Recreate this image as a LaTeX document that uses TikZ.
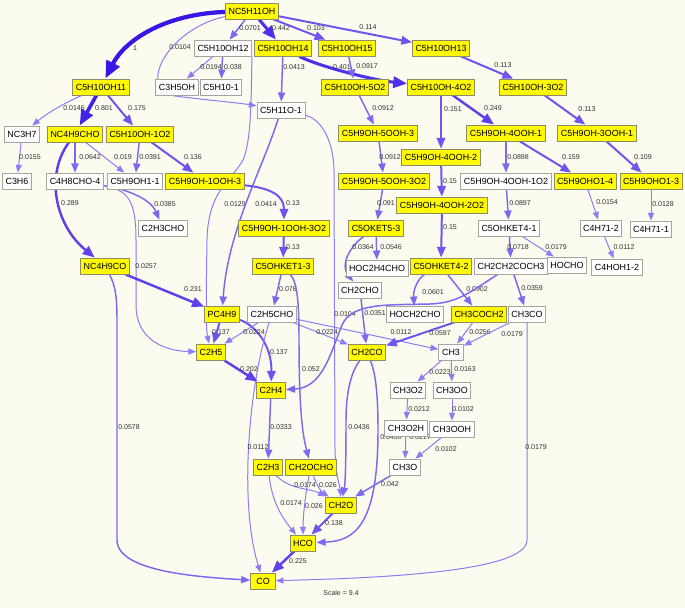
\documentclass[tikz,border=0pt]{standalone}
\usepackage{fontspec}
\setmainfont{Liberation Sans}
\usepackage{tikz}
\usetikzlibrary{arrows.meta}
\definecolor{bgCream}{RGB}{251,251,240}
\definecolor{spYellow}{RGB}{255,250,0}
\definecolor{bdYellow}{RGB}{140,140,105}
\definecolor{bdWhite}{RGB}{165,165,155}
\definecolor{rateGray}{RGB}{50,50,50}
\definecolor{flA}{RGB}{140,125,242}
\definecolor{flB}{RGB}{125,105,240}
\definecolor{flC}{RGB}{110,85,238}
\definecolor{flD}{RGB}{95,65,236}
\definecolor{flE}{RGB}{78,48,234}
\definecolor{flF}{RGB}{65,35,232}
\definecolor{flG}{RGB}{55,22,230}
\pgfdeclarelayer{bg}
\pgfdeclarelayer{edges}
\pgfsetlayers{bg,edges,main}
\tikzset{
mainsp/.style={rectangle,draw=bdYellow,line width=.8pt,fill=spYellow,minimum width=21pt,minimum height=13.6pt,inner xsep=2.6pt,inner ysep=0pt,font=\fontsize{7.6}{9}\selectfont},
sidesp/.style={mainsp,draw=bdWhite,fill=white},
rate/.style={inner sep=0pt,text=rateGray,font=\fontsize{6}{7}\selectfont},
flux/.style={-{Triangle[length=4pt 3,width=3pt 2.5]}},
fA/.style={line width=.85pt,draw=flA},
fB/.style={line width=1.25pt,draw=flB},
fC/.style={line width=1.7pt,draw=flC},
fD/.style={line width=2.1pt,draw=flD},
fE/.style={line width=2.6pt,draw=flE},
fF/.style={line width=3.1pt,draw=flF},
fG/.style={line width=3.6pt,draw=flG}
}
\begin{document}
\begin{tikzpicture}[x=0.03cm,y=-0.03cm]
\useasboundingbox (0,0) rectangle (685,608);
\node[mainsp] (nc5) at (252,11) {NC5H11OH};
\node[sidesp] (h12) at (223,48) {C5H10OH12};
\node[mainsp] (h14) at (283,48) {C5H10OH14};
\node[mainsp] (h15) at (347,48) {C5H10OH15};
\node[mainsp] (h13) at (441,48) {C5H10OH13};
\node[sidesp] (c3h5oh) at (177,87) {C3H5OH};
\node[sidesp] (c5h10) at (221,87) {C5H10-1};
\node[mainsp] (h11) at (101,87) {C5H10OH11};
\node[mainsp] (h5o2) at (355,87) {C5H10OH-5O2};
\node[mainsp] (h4o2) at (441,87) {C5H10OH-4O2};
\node[mainsp] (h3o2) at (533,87) {C5H10OH-3O2};
\node[sidesp] (c5h11o) at (281,110) {C5H11O-1};
\node[sidesp] (nc3h7) at (22,134) {NC3H7};
\node[mainsp] (nc4cho) at (75,134) {NC4H9CHO};
\node[mainsp] (h1o2) at (140,134) {C5H10OH-1O2};
\node[mainsp] (q53) at (378,133) {C5H9OH-5OOH-3};
\node[mainsp] (q41) at (506,133) {C5H9OH-4OOH-1};
\node[mainsp] (q31) at (597,133) {C5H9OH-3OOH-1};
\node[mainsp] (q42) at (441,157) {C5H9OH-4OOH-2};
\node[sidesp] (c3h6) at (17,181) {C3H6};
\node[sidesp] (c4h8cho) at (75,181) {C4H8CHO-4};
\node[sidesp] (c5h9oh) at (135,181) {C5H9OH1-1};
\node[mainsp] (q13) at (205,181) {C5H9OH-1OOH-3};
\node[mainsp] (q53o2) at (384,181) {C5H9OH-5OOH-3O2};
\node[sidesp] (q41o2) at (506,181) {C5H9OH-4OOH-1O2};
\node[mainsp] (ho14) at (585,181) {C5H9OHO1-4};
\node[mainsp] (ho13) at (651,181) {C5H9OHO1-3};
\node[mainsp] (q42o2) at (442,205) {C5H9OH-4OOH-2O2};
\node[sidesp] (c2h3cho) at (163,228) {C2H3CHO};
\node[mainsp] (q13o2) at (284,228) {C5H9OH-1OOH-3O2};
\node[mainsp] (k53) at (376,228) {C5OKET5-3};
\node[sidesp] (k41) at (509,228) {C5OHKET4-1};
\node[sidesp] (c4h712) at (601,228) {C4H71-2};
\node[sidesp] (c4h711) at (651,229) {C4H71-1};
\node[mainsp] (nc4co) at (105,266) {NC4H9CO};
\node[mainsp] (k13) at (283,266) {C5OHKET1-3};
\node[sidesp] (hoc2) at (377,268) {HOC2H4CHO};
\node[mainsp] (k42) at (441,266) {C5OHKET4-2};
\node[sidesp] (ch2ch2) at (511,266) {CH2CH2COCH3};
\node[sidesp] (hocho) at (567,265) {HOCHO};
\node[sidesp] (c4hoh) at (617,267) {C4HOH1-2};
\node[sidesp] (ch2cho) at (360,290) {CH2CHO};
\node[mainsp] (pc4h9) at (222,314) {PC4H9};
\node[sidesp] (c2h5cho) at (272,314) {C2H5CHO};
\node[sidesp] (hoch2) at (415,314) {HOCH2CHO};
\node[mainsp] (ch3coch2) at (479,314) {CH3COCH2};
\node[sidesp] (ch3co) at (527,314) {CH3CO};
\node[mainsp] (c2h5) at (211,352) {C2H5};
\node[mainsp] (ch2co) at (367,352) {CH2CO};
\node[sidesp] (ch3) at (451,352) {CH3};
\node[mainsp] (c2h4) at (271,390) {C2H4};
\node[sidesp] (ch3o2) at (408,390) {CH3O2};
\node[sidesp] (ch3oo) at (452,390) {CH3OO};
\node[sidesp] (ch3o2h) at (406,428) {CH3O2H};
\node[sidesp] (ch3ooh) at (452,429) {CH3OOH};
\node[mainsp] (c2h3) at (268,467) {C2H3};
\node[mainsp] (ch2ocho) at (311,467) {CH2OCHO};
\node[sidesp] (ch3o) at (405,467) {CH3O};
\node[mainsp] (ch2o) at (341,505) {CH2O};
\node[mainsp] (hco) at (303,543) {HCO};
\node[mainsp] (co) at (263,581) {CO};
\node[rate] (scale) at (341,593) {Scale = 9.4};
\begin{pgfonlayer}{bg}
\fill[bgCream] (0,0) rectangle (685,608);
\end{pgfonlayer}
\begin{pgfonlayer}{edges}
\draw[flux,fG] (nc5) .. controls (165,14) and (125,40) .. (h11) node[rate] at (135,48) {1};
\draw[flux,fB] (nc5) -- (h12) node[rate] at (250,28) {0.0701};
\draw[flux,fE] (nc5) -- (h14) node[rate] at (281,28) {0.442};
\draw[flux,fC] (nc5) -- (h15) node[rate] at (316,28) {0.103};
\draw[flux,fC] (nc5) -- (h13) node[rate] at (368,27) {0.114};
\draw[flux,fA] (nc5) .. controls (170,28) and (135,88) .. (175,96) .. controls (215,101) and (240,103) .. (c5h11o) node[rate] at (180,47) {0.0104};
\draw[flux,fA] (h12) -- (c3h5oh) node[rate] at (211,67) {0.0194};
\draw[flux,fB] (h12) -- (c5h10) node[rate] at (233,67) {0.038};
\draw[flux,fB] (h14) -- (c5h11o) node[rate] at (294,67) {0.0413};
\draw[flux,fE] (h14) .. controls (318,66) and (372,80) .. (h4o2) node[rate] at (342,67) {0.401};
\draw[flux,fB] (h15) -- (h5o2) node[rate] at (367,66) {0.0917};
\draw[flux,fC] (h13) -- (h3o2) node[rate] at (503,65) {0.113};
\draw[flux,fA] (h11) .. controls (60,105) and (45,115) .. (nc3h7) node[rate] at (74,108) {0.0146};
\draw[flux,fF] (h11) -- (nc4cho) node[rate] at (104,108) {0.801};
\draw[flux,fC] (h11) -- (h1o2) node[rate] at (137,108) {0.175};
\draw[flux,fB] (h5o2) -- (q53) node[rate] at (383,108) {0.0912};
\draw[flux,fC] (h4o2) -- (q42) node[rate] at (453,109) {0.151};
\draw[flux,fD] (h4o2) -- (q41) node[rate] at (493,108) {0.249};
\draw[flux,fC] (h3o2) -- (q31) node[rate] at (587,109) {0.113};
\draw[flux,fA] (nc3h7) -- (c3h6) node[rate] at (30,157) {0.0155};
\draw[flux,fB] (nc4cho) -- (c4h8cho) node[rate] at (90,157) {0.0642};
\draw[flux,fA] (nc4cho) -- (c5h9oh) node[rate] at (123,157) {0.019};
\draw[flux,fB] (h1o2) -- (c5h9oh) node[rate] at (150,157) {0.0391};
\draw[flux,fC] (h1o2) -- (q13) node[rate] at (193,157) {0.136};
\draw[flux,fB] (q53) -- (q53o2) node[rate] at (390,157) {0.0912};
\draw[flux,fC] (q42) -- (q42o2) node[rate] at (450,181) {0.15};
\draw[flux,fB] (q41) -- (q41o2) node[rate] at (518,157) {0.0898};
\draw[flux,fC] (q41) -- (ho14) node[rate] at (571,157) {0.159};
\draw[flux,fC] (q31) -- (ho13) node[rate] at (643,157) {0.109};
\draw[flux,fD] (nc4cho) .. controls (45,175) and (55,225) .. (nc4co) node[rate] at (70,203) {0.289};
\draw[flux,fB] (c4h8cho) .. controls (125,189) and (150,198) .. (c2h3cho) node[rate] at (165,204) {0.0385};
\draw[flux,fA] (c4h8cho) .. controls (128,190) and (136,200) .. (136,240) -- (136,305) .. controls (136,340) and (165,351) .. (c2h5) node[rate] at (146,266) {0.0257};
\draw[flux,fA] (h12.south east) .. controls (251,90) and (252,140) .. (243,160) .. controls (232,180) and (208,190) .. (207,240) .. controls (206,300) and (206,330) .. (c2h5) node[rate] at (235,204) {0.0129};
\draw[flux,fB] (c5h11o) .. controls (262,170) and (228,230) .. (pc4h9) node[rate] at (266,204) {0.0414};
\draw[flux,fA] (c5h11o) .. controls (318,118) and (333,135) .. (334,170) -- (335,450) .. controls (336,480) and (340,485) .. (ch2o) node[rate] at (345,314) {0.0104};
\draw[flux,fC] (q13) .. controls (270,188) and (284,195) .. (q13o2) node[rate] at (293,203) {0.13};
\draw[flux,fB] (q53o2) -- (k53) node[rate] at (386,203) {0.091};
\draw[flux,fC] (q42o2) -- (k42) node[rate] at (450,227) {0.15};
\draw[flux,fB] (q41o2) -- (k41) node[rate] at (520,203) {0.0897};
\draw[flux,fA] (ho14) -- (c4h712) node[rate] at (607,202) {0.0154};
\draw[flux,fA] (ho13) -- (c4h711) node[rate] at (663,204) {0.0128};
\draw[flux,fC] (q13o2) -- (k13) node[rate] at (293,247) {0.13};
\draw[flux,fB] (k53) -- (hoc2) node[rate] at (391,247) {0.0546};
\draw[flux,fB] (k53) .. controls (350,246) and (340,265) .. (ch2cho) node[rate] at (363,247) {0.0364};
\draw[flux,fB] (k41) -- (ch2ch2) node[rate] at (518,247) {0.0718};
\draw[flux,fA] (k41) -- (hocho) node[rate] at (556,247) {0.0179};
\draw[flux,fA] (c4h712) -- (c4hoh) node[rate] at (624,247) {0.0112};
\draw[flux,fD] (nc4co) -- (pc4h9) node[rate] at (193,289) {0.231};
\draw[flux,fB] (k13) -- (c2h5cho) node[rate] at (288,289) {0.078};
\draw[flux,fB] (k13) .. controls (297,282) and (299,300) .. (299,340) .. controls (299,420) and (304,440) .. (ch2ocho) node[rate] at (311,369) {0.052};
\draw[flux,fB] (ch2cho) -- (ch2co) node[rate] at (375,313) {0.0351};
\draw[flux,fB] (k42) .. controls (418,278) and (413,290) .. (hoch2) node[rate] at (433,292) {0.0601};
\draw[flux,fB] (k42) -- (ch3coch2) node[rate] at (477,289) {0.0902};
\draw[flux,fB] (ch2ch2) -- (ch3co) node[rate] at (532,288) {0.0359};
\draw[flux,fB] (ch2ch2) .. controls (470,292) and (458,303) .. (430,304) .. controls (385,305) and (352,303) .. (342,325) .. controls (330,355) and (322,388) .. (c2h4);
\draw[flux,fC] (pc4h9) -- (c2h5) node[rate] at (221,332) {0.137};
\draw[flux,fC] (pc4h9) .. controls (255,325) and (272,345) .. (c2h4) node[rate] at (279,352) {0.137};
\draw[flux,fA] (c2h5cho) -- (c2h5) node[rate] at (254,332) {0.0224};
\draw[flux,fA] (c2h5cho) -- (ch2co) node[rate] at (327,332) {0.0224};
\draw[flux,fA] (c2h5cho) -- (ch3) node[rate] at (401,332) {0.0112};
\draw[flux,fA] (c2h5cho) .. controls (250,380) and (238,500) .. (co) node[rate] at (258,447) {0.0112};
\draw[flux,fC] (ch3coch2) -- (ch2co) node[rate] at (440,333) {0.0597};
\draw[flux,fA] (ch3coch2) -- (ch3) node[rate] at (480,332) {0.0256};
\draw[flux,fA] (ch3co) -- (ch3) node[rate] at (512,334) {0.0179};
\draw[flux,fA] (ch3co) -- (527,540) .. controls (527,572) and (380,578) .. (co) node[rate] at (536,447) {0.0179};
\draw[flux,fD] (c2h5) -- (c2h4) node[rate] at (249,369) {0.202};
\draw[flux,fB] (nc4co) .. controls (115,285) and (117,295) .. (117,320) -- (117,540) .. controls (117,572) and (200,577) .. (co) node[rate] at (129,427) {0.0578};
\draw[flux,fB] (ch2co) .. controls (352,370) and (346,390) .. (346,420) .. controls (346,470) and (345,485) .. (ch2o) node[rate] at (359,427) {0.0436};
\draw[flux,fB] (ch2co) .. controls (375,372) and (378,390) .. (378,430) .. controls (378,525) and (355,541) .. (hco) node[rate] at (391,437) {0.0436};
\draw[flux,fA] (ch3) -- (ch3o2) node[rate] at (440,372) {0.0223};
\draw[flux,fA] (ch3) -- (ch3oo) node[rate] at (465,369) {0.0163};
\draw[flux,fA] (ch3o2) -- (ch3o2h) node[rate] at (419,409) {0.0212};
\draw[flux,fA] (ch3oo) -- (ch3ooh) node[rate] at (463,409) {0.0102};
\draw[flux,fA] (ch3o2h) -- (ch3o) node[rate] at (420,437) {0.0217};
\draw[flux,fA] (ch3ooh) -- (ch3o) node[rate] at (446,449) {0.0102};
\draw[flux,fB] (c2h4) -- (c2h3) node[rate] at (281,427) {0.0333};
\draw[flux,fA] (c2h3) .. controls (272,500) and (280,515) .. (hco) node[rate] at (291,503) {0.0174};
\draw[flux,fA] (c2h3) .. controls (290,490) and (310,488) .. (ch2o) node[rate] at (305,485) {0.0174};
\draw[flux,fA] (ch2ocho) .. controls (316,485) and (322,492) .. (ch2o) node[rate] at (328,485) {0.026};
\draw[flux,fA] (ch2ocho) .. controls (306,490) and (303,515) .. (hco) node[rate] at (314,506) {0.026};
\draw[flux,fB] (ch3o) -- (ch2o) node[rate] at (390,484) {0.042};
\draw[flux,fC] (ch2o) -- (hco) node[rate] at (334,523) {0.138};
\draw[flux,fD] (hco) -- (co) node[rate] at (298,561) {0.225};
\end{pgfonlayer}
\end{tikzpicture}
\end{document}
